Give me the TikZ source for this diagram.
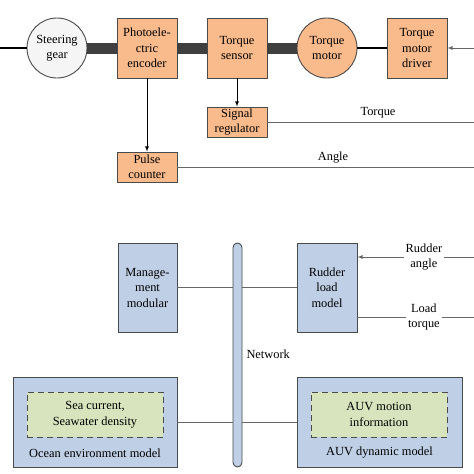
\documentclass[tikz,border=0pt]{standalone}
\usepackage{fontspec}
\setmainfont{Liberation Serif}
\definecolor{boxorange}{HTML}{F9BA8C}
\definecolor{boxblue}{HTML}{BFD0E6}
\definecolor{boxgreen}{HTML}{D7E4BD}
\definecolor{edgegray}{HTML}{4A4A4A}
\definecolor{wiregray}{HTML}{666666}
\begin{document}
\begin{tikzpicture}[x=1pt,y=-1pt,>=latex,
	font=\fontsize{12.4}{15.5}\selectfont,
	part/.style={draw=edgegray, line width=0.9pt, fill=boxorange, align=center,
		minimum width=60pt, minimum height=60pt, inner sep=1pt},
	wheel/.style={part, circle, minimum size=60pt},
	model/.style={draw=edgegray, line width=0.9pt, fill=boxblue, align=center, inner sep=1pt},
	inner/.style={draw=edgegray, line width=0.9pt, dashed, dash pattern=on 6pt off 4pt,
		fill=boxgreen, align=center, minimum width=136pt, minimum height=45pt},
	shaft/.style={line width=11pt, draw=edgegray!85!black},
	rod/.style={line width=2.5pt, draw=black},
	wire/.style={line width=0.8pt, draw=wiregray},
	tag/.style={fill=white, align=center, inner sep=2pt}]
	\useasboundingbox (0,0) rectangle (474,474);

	% mechanical chain
	\node[wheel, fill=gray!8] (gear) at (57,48) {Steering\\gear};
	\node[part] (enc) at (147,48) {Photoele-\\ctric\\encoder};
	\node[part] (tsens) at (237,48) {Torque\\sensor};
	\node[wheel] (tmotor) at (327,48) {Torque\\motor};
	\node[part] (driver) at (417,48) {Torque\\motor\\driver};
	\node[part, minimum height=30pt] (sreg) at (237,122) {Signal\\regulator};
	\node[part, minimum height=30pt] (pulse) at (147,167) {Pulse\\counter};
	\coordinate (shaftin) at (0,48);
	\coordinate (drivein) at (474,48);
	\coordinate (torqueout) at (474,122);
	\coordinate (angleout) at (474,167);

	\draw[rod] (shaftin) -- (gear.west);
	\draw[shaft] (gear.east) -- (enc.west);
	\draw[shaft] (enc.east) -- (tsens.west);
	\draw[shaft] (tsens.east) -- (tmotor.west);
	\draw[rod] (tmotor.east) -- (driver.west);
	\draw[wire,->] (drivein) -- (driver.east);
	\draw[->, line width=0.8pt] (tsens.south) -- (sreg.north);
	\draw[->, line width=0.8pt] (enc.south) -- (pulse.north);
	\draw[wire] (sreg.east) -- (torqueout);
	\draw[wire] (pulse.east) -- (angleout);
	\node[above] (torquetxt) at (378,122) {Torque};
	\node[above] (angletxt) at (333,167) {Angle};

	% simulation side
	\node[model, minimum width=59pt, minimum height=89pt] (mgmt) at (147.5,287.5) {Manage-\\ment\\modular};
	\node[model, minimum width=60pt, minimum height=89pt] (rudder) at (327,287.5) {Rudder\\load\\model};
	\node[draw=edgegray, line width=0.9pt, fill=boxblue, minimum width=9pt, minimum height=224pt,
		inner sep=0pt, rounded corners=4.5pt] (net) at (237.5,355) {};
	\node[right] (nettxt) at (243,354) {Network};

	\node[model, minimum width=164pt, minimum height=90pt] (ocean) at (95,422) {};
	\node[inner] (sea) at (95,414.5) {Sea current,\\Seawater density};
	\node (oceantxt) at (95,453) {Ocean environment model};

	\node[model, minimum width=165pt, minimum height=90pt] (auv) at (379.5,422) {};
	\node[inner] (motion) at (379,414.5) {AUV motion\\information};
	\node (auvtxt) at (379.5,453) {AUV dynamic model};

	\coordinate (rudderin) at (474,257);
	\coordinate (loadout) at (474,317);

	\draw[wire] (mgmt.east) -- (net.west |- mgmt.east);
	\draw[wire] (ocean.east) -- (net.west |- ocean.east);
	\draw[wire] (net.east |- rudder.west) -- (rudder.west);
	\draw[wire] (net.east |- auv.west) -- (auv.west);
	\draw[wire,->] (rudderin) -- (rudderin -| rudder.east)
		node[tag, pos=0.43] (ruddertxt) {Rudder\\angle};
	\draw[wire] (loadout -| rudder.east) -- (loadout)
		node[tag, pos=0.57] (loadtxt) {Load\\torque};
\end{tikzpicture}
\end{document}
